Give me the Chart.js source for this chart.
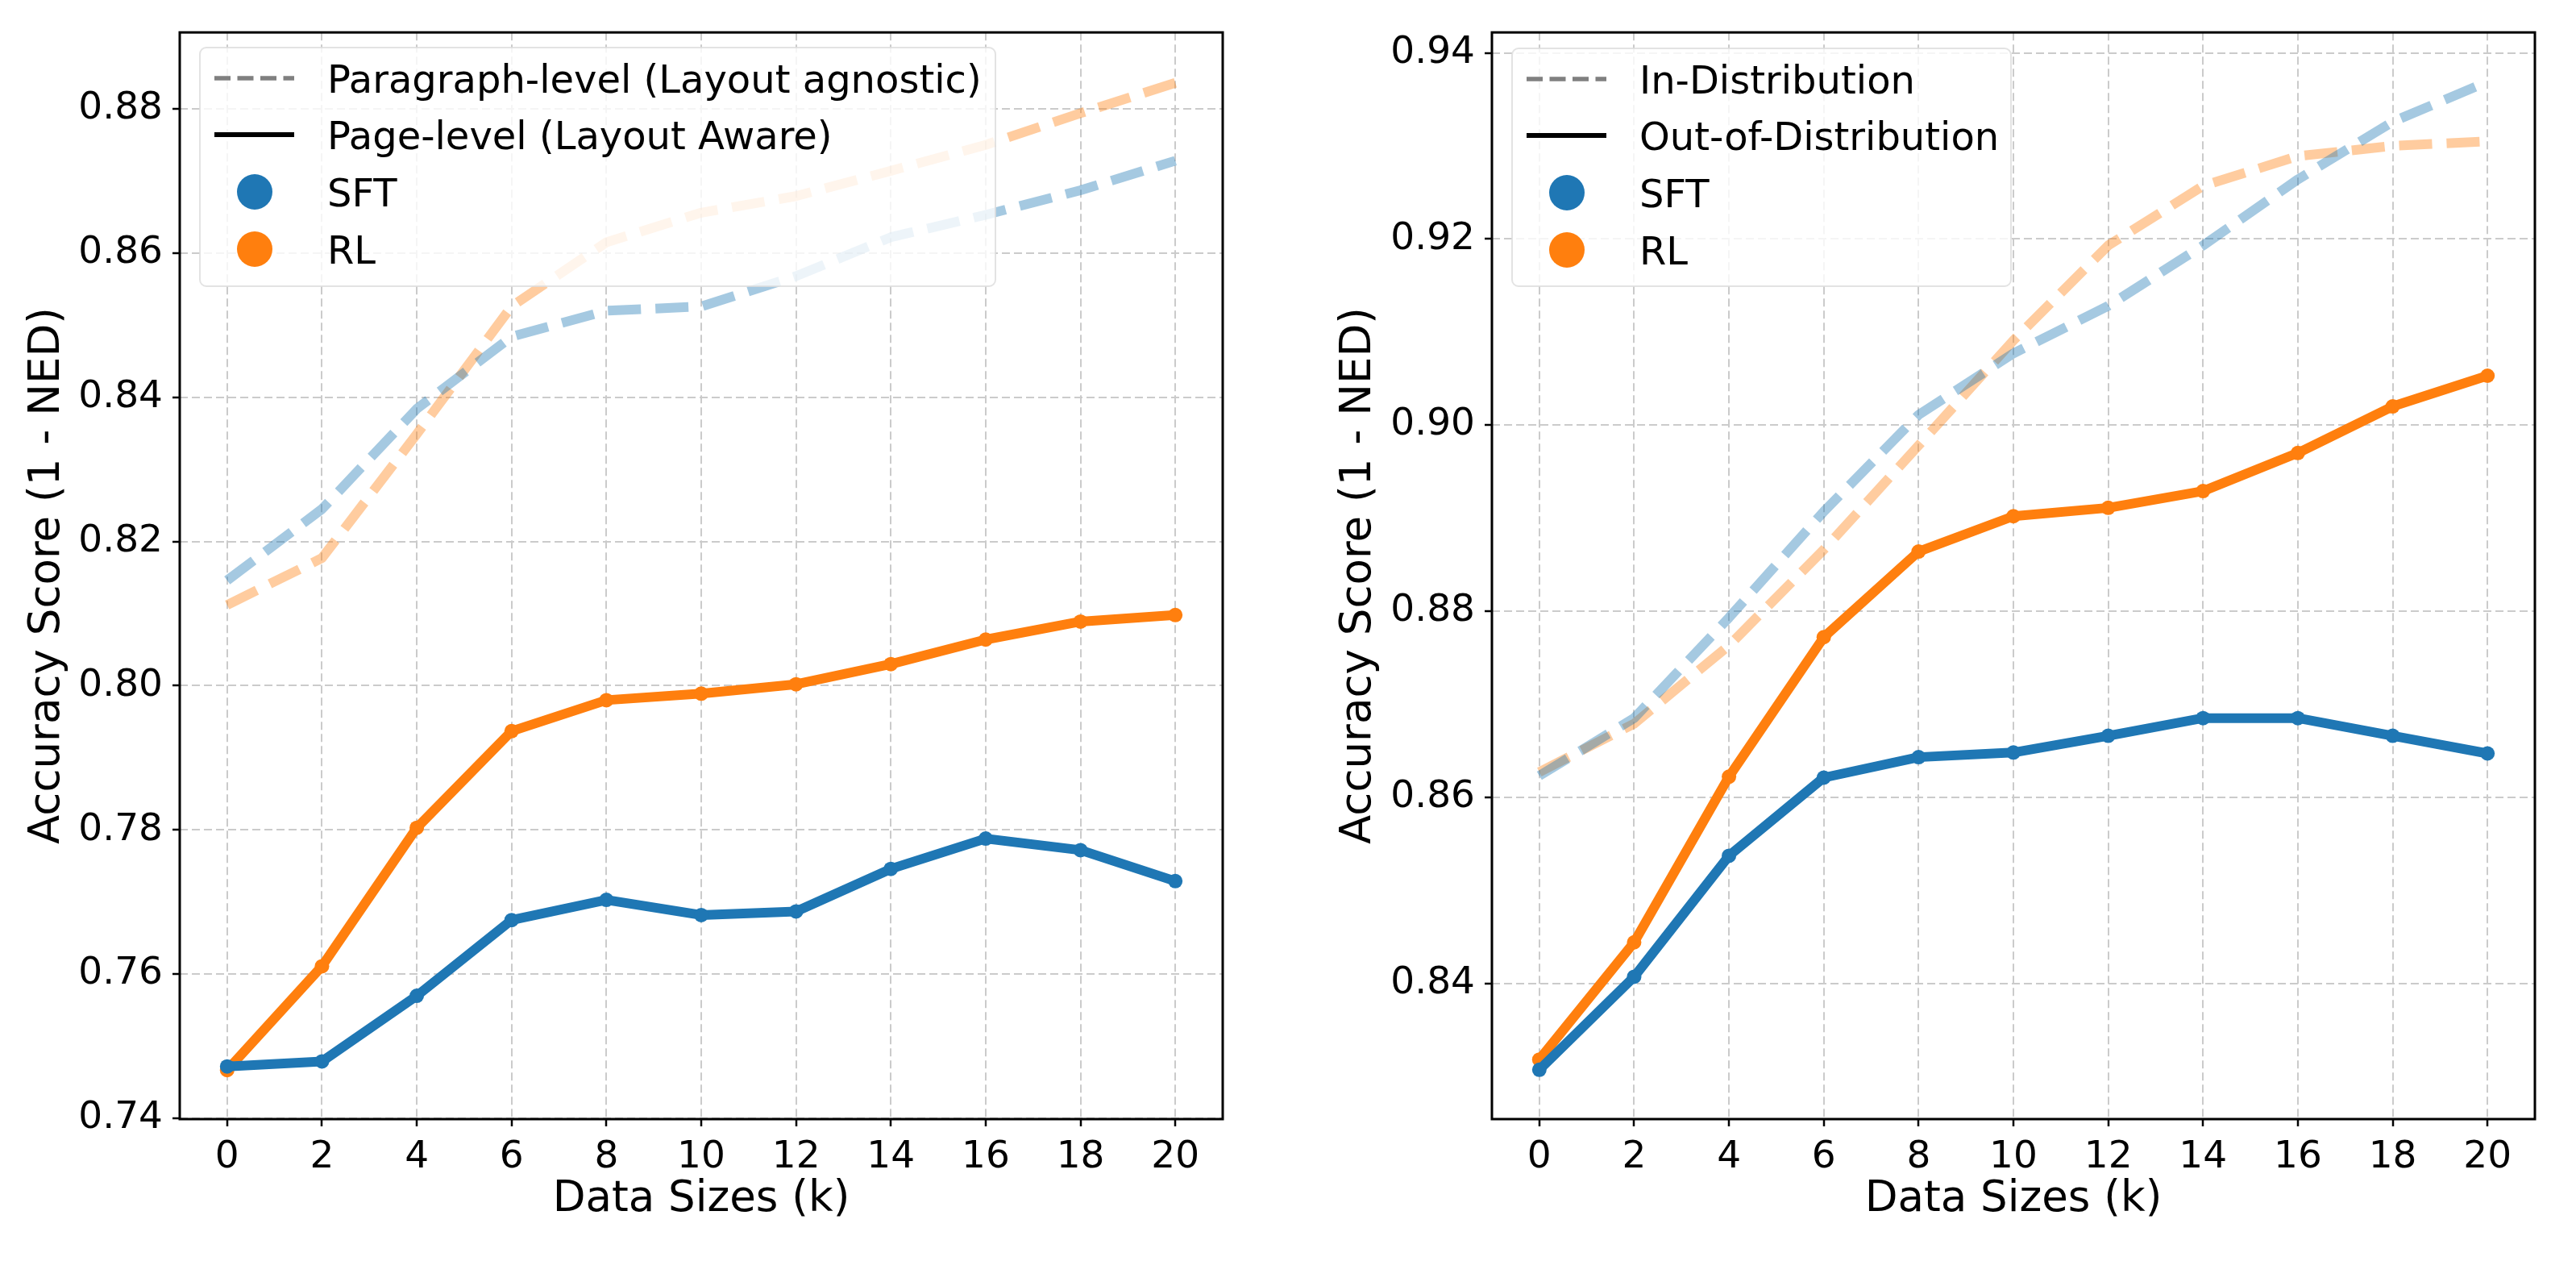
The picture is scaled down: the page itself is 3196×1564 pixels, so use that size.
<!DOCTYPE html>
<html>
<head>
<meta charset="utf-8">
<script src="https://cdn.jsdelivr.net/npm/chart.js@4.4.1/dist/chart.umd.min.js"></script>
<style>
  html, body { margin: 0; padding: 0; background: #fff; }
  .panel { position: absolute; top: 0; width: 1598px; height: 1564px; }
  #leftPanel { left: 0; }
  #rightPanel { left: 1598px; }
</style>
</head>
<body>
<div class="panel" id="leftPanel"><canvas id="leftChart" width="1598" height="1564"></canvas></div>
<div class="panel" id="rightPanel"><canvas id="rightChart" width="1598" height="1564"></canvas></div>
<script>
const X_VALUES = [0, 2, 4, 6, 8, 10, 12, 14, 16, 18, 20];

// left panel: paragraph-level vs page-level
const PARA_SFT = [0.8146, 0.8245, 0.8384, 0.8484, 0.8520, 0.8526, 0.8568, 0.8622, 0.8653, 0.8687, 0.8728];
const PARA_RL  = [0.8112, 0.8177, 0.8349, 0.8526, 0.8615, 0.8656, 0.8679, 0.8714, 0.8750, 0.8794, 0.8836];
const PAGE_SFT = [0.7472, 0.7479, 0.7570, 0.7675, 0.7703, 0.7682, 0.7687, 0.7746, 0.7788, 0.7772, 0.7729];
const PAGE_RL  = [0.7467, 0.7611, 0.7803, 0.7937, 0.7980, 0.7989, 0.8002, 0.8030, 0.8064, 0.8089, 0.8098];

// right panel: in-distribution vs out-of-distribution
const ID_SFT  = [0.8623, 0.8685, 0.8793, 0.8907, 0.9011, 0.9077, 0.9128, 0.9193, 0.9264, 0.9326, 0.9369];
const ID_RL   = [0.8627, 0.8679, 0.8763, 0.8866, 0.8978, 0.9091, 0.9193, 0.9257, 0.9289, 0.9300, 0.9305];
const OOD_SFT = [0.8307, 0.8407, 0.8537, 0.8621, 0.8643, 0.8648, 0.8666, 0.8685, 0.8685, 0.8666, 0.8647];
const OOD_RL  = [0.8318, 0.8444, 0.8622, 0.8772, 0.8864, 0.8902, 0.8911, 0.8929, 0.8970, 0.9020, 0.9053];

const LEFT_Y_TICKS = [0.74, 0.76, 0.78, 0.80, 0.82, 0.84, 0.86, 0.88];
const RIGHT_Y_TICKS = [0.84, 0.86, 0.88, 0.90, 0.92, 0.94];

const LEFT_LEGEND = ['Paragraph-level (Layout agnostic)', 'Page-level (Layout Aware)', 'SFT', 'RL'];
const RIGHT_LEGEND = ['In-Distribution', 'Out-of-Distribution', 'SFT', 'RL'];

const X_TITLE = 'Data Sizes (k)';
const Y_TITLE = 'Accuracy Score (1 - NED)';

const BLUE = '#1f77b4';
const ORANGE = '#ff7f0e';
const BLUE_FADED = 'rgba(31,119,180,0.4)';
const ORANGE_FADED = 'rgba(255,127,14,0.4)';
const FONT = 'DejaVu Sans';

function points(values) {
  return X_VALUES.map((x, i) => ({ x, y: values[i] }));
}

function dashed(values, color, order) {
  return {
    data: points(values),
    borderColor: color,
    borderWidth: 12,
    borderDash: [41, 18],
    borderCapStyle: 'butt',
    borderJoinStyle: 'round',
    pointRadius: 0,
    tension: 0,
    order,
  };
}

function solid(values, color, order) {
  return {
    data: points(values),
    borderColor: color,
    backgroundColor: color,
    borderWidth: 12,
    borderJoinStyle: 'round',
    pointRadius: 9,
    pointBorderWidth: 0,
    pointBackgroundColor: color,
    tension: 0,
    order,
  };
}

const framePlugin = {
  id: 'frame',
  afterDatasetsDraw(chart) {
    const { ctx, chartArea: a } = chart;
    ctx.save();
    ctx.strokeStyle = '#000';
    ctx.lineWidth = 3;
    ctx.strokeRect(a.left, a.top, a.right - a.left, a.bottom - a.top);
    ctx.restore();
  },
};

const boxLegendPlugin = {
  id: 'boxLegend',
  afterDraw(chart, args, opts) {
    const { ctx } = chart;
    const b = opts.box;
    ctx.save();
    ctx.beginPath();
    ctx.roundRect(b.x, b.y, b.w, b.h, 8);
    ctx.fillStyle = 'rgba(255,255,255,0.8)';
    ctx.fill();
    ctx.strokeStyle = 'rgba(220,220,220,0.8)';
    ctx.lineWidth = 2;
    ctx.stroke();

    const rows = [38, 108, 179, 250];
    opts.items.forEach((item, i) => {
      const y = b.y + rows[i];
      ctx.setLineDash([]);
      if (item.kind === 'dot') {
        ctx.beginPath();
        ctx.arc(b.x + 68, y, 22, 0, Math.PI * 2);
        ctx.fillStyle = item.color;
        ctx.fill();
      } else {
        ctx.beginPath();
        ctx.moveTo(b.x + 18, y);
        ctx.lineTo(b.x + 117, y);
        ctx.strokeStyle = item.color;
        ctx.lineWidth = item.kind === 'dash' ? 5.5 : 6;
        ctx.lineCap = 'butt';
        if (item.kind === 'dash') ctx.setLineDash([20, 8.5]);
        ctx.stroke();
      }
      ctx.setLineDash([]);
      ctx.fillStyle = '#000';
      ctx.font = `48px "${FONT}"`;
      ctx.textBaseline = 'alphabetic';
      ctx.textAlign = 'left';
      ctx.fillText(item.label, b.x + 158, y + 17.5);
    });
    ctx.restore();
  },
};

function buildChart(canvasId, cfg) {
  const tickFont = { family: FONT, size: 47 };
  const titleFont = { family: FONT, size: 53, lineHeight: 1.2 };
  return new Chart(document.getElementById(canvasId), {
    type: 'line',
    data: { datasets: cfg.datasets },
    plugins: [framePlugin, boxLegendPlugin],
    options: {
      responsive: false,
      animation: false,
      devicePixelRatio: 1,
      layout: { padding: { top: 34, right: cfg.padRight, left: 0, bottom: 0 } },
      scales: {
        x: {
          type: 'linear',
          min: -1,
          max: 21,
          afterBuildTicks: s => { s.ticks = X_VALUES.map(v => ({ value: v })); },
          afterFit: s => { s.height = 176; },
          ticks: { color: '#000', font: tickFont, padding: 11, maxRotation: 0, callback: v => String(v) },
          grid: { color: '#cbcbcb', lineWidth: 2, tickLength: 9, tickColor: '#000', tickWidth: 2.5 },
          border: { display: false, dash: [10, 5] },
          title: { display: true, text: X_TITLE, color: '#000', font: titleFont, padding: { top: 0, bottom: 44 } },
        },
        y: {
          type: 'linear',
          min: cfg.yMin,
          max: cfg.yMax,
          afterBuildTicks: s => { s.ticks = cfg.yTicks.map(v => ({ value: v })); },
          afterFit: s => { s.width = cfg.yWidth; },
          ticks: { color: '#000', font: tickFont, padding: 12, callback: v => v.toFixed(2) },
          grid: { color: '#cbcbcb', lineWidth: 2, tickLength: 9, tickColor: '#000', tickWidth: 2.5 },
          border: { display: false, dash: [10, 5] },
          title: { display: true, text: Y_TITLE, color: '#000', font: titleFont, padding: { top: cfg.yTitlePad, bottom: 0 } },
        },
      },
      plugins: {
        legend: { display: false },
        tooltip: { enabled: false },
        boxLegend: {
          box: cfg.legendBox,
          items: [
            { label: cfg.legend[0], kind: 'dash', color: '#808080' },
            { label: cfg.legend[1], kind: 'solid', color: '#000' },
            { label: cfg.legend[2], kind: 'dot', color: BLUE },
            { label: cfg.legend[3], kind: 'dot', color: ORANGE },
          ],
        },
      },
    },
  });
}

buildChart('leftChart', {
  datasets: [
    solid(PAGE_SFT, BLUE, 0),
    solid(PAGE_RL, ORANGE, 1),
    dashed(PARA_SFT, BLUE_FADED, 2),
    dashed(PARA_RL, ORANGE_FADED, 3),
  ],
  yMin: 0.7399, yMax: 0.8906, yTicks: LEFT_Y_TICKS,
  yWidth: 223, padRight: 81, yTitlePad: 27,
  legend: LEFT_LEGEND,
  legendBox: { x: 248, y: 59, w: 987, h: 296 },
});

buildChart('rightChart', {
  datasets: [
    solid(OOD_SFT, BLUE, 0),
    solid(OOD_RL, ORANGE, 1),
    dashed(ID_SFT, BLUE_FADED, 2),
    dashed(ID_RL, ORANGE_FADED, 3),
  ],
  yMin: 0.8254, yMax: 0.9422, yTicks: RIGHT_Y_TICKS,
  yWidth: 253, padRight: 51, yTitlePad: 56,
  legend: RIGHT_LEGEND,
  legendBox: { x: 278, y: 60, w: 619, h: 295 },
});
</script>
</body>
</html>
